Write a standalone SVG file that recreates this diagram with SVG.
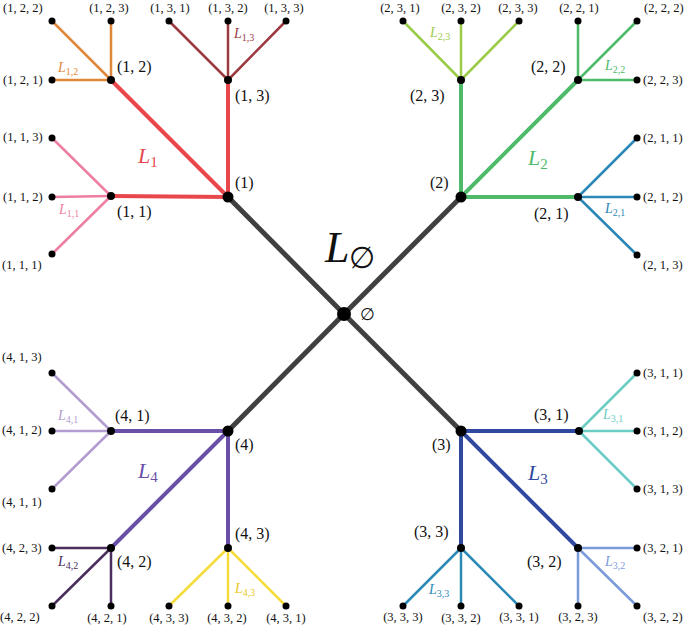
<svg xmlns="http://www.w3.org/2000/svg" width="685" height="628" viewBox="0 0 685 628" font-family="'Liberation Serif', 'DejaVu Serif', serif">
<style>
text{font-family:'Liberation Serif','DejaVu Serif',serif;fill:#111}
.lf{font-size:12.5px}
.n2{font-size:16px}
.L{font-style:italic}
.sub{font-style:normal}
.e0{stroke:#404040;stroke-width:5;fill:none}
.e1{stroke-width:4;fill:none}
.e2{stroke-width:2.5;fill:none}
.c1{stroke:#e8474c}.c11{stroke:#ee7fa0}.c12{stroke:#e0883a}.c13{stroke:#9b3a3f}
.c2{stroke:#4dbb6a}.c21{stroke:#2b87b5}.c22{stroke:#4dbb6a}.c23{stroke:#9acc4a}
.c3{stroke:#2f48a0}.c31{stroke:#6ccdc4}.c32{stroke:#7b9bd8}.c33{stroke:#2a8ab5}
.c4{stroke:#6a4fa8}.c41{stroke:#b39cd0}.c42{stroke:#4b2e5c}.c43{stroke:#f5dc3a}
</style>
<rect width="685" height="628" fill="#fff"/>
<g id="connectors" stroke-linecap="round">
<line class="e0" x1="344" y1="314" x2="228" y2="197"/>
<line class="e0" x1="344" y1="314" x2="461" y2="197"/>
<line class="e0" x1="344" y1="314" x2="461" y2="431"/>
<line class="e0" x1="344" y1="314" x2="228" y2="431"/>
<line class="e1 c1" x1="228" y1="197" x2="111" y2="196"/>
<line class="e1 c1" x1="228" y1="197" x2="111" y2="80"/>
<line class="e1 c1" x1="228" y1="197" x2="228" y2="80"/>
<line class="e2 c11" x1="111" y1="196" x2="52" y2="138"/>
<line class="e2 c11" x1="111" y1="196" x2="52" y2="197"/>
<line class="e2 c11" x1="111" y1="196" x2="52" y2="254"/>
<line class="e2 c12" x1="111" y1="80" x2="52" y2="21"/>
<line class="e2 c12" x1="111" y1="80" x2="111" y2="21"/>
<line class="e2 c12" x1="111" y1="80" x2="52" y2="80"/>
<line class="e2 c13" x1="228" y1="80" x2="169" y2="21"/>
<line class="e2 c13" x1="228" y1="80" x2="228" y2="21"/>
<line class="e2 c13" x1="228" y1="80" x2="286" y2="21"/>
<line class="e1 c2" x1="461" y1="197" x2="578" y2="197"/>
<line class="e1 c2" x1="461" y1="197" x2="578" y2="80"/>
<line class="e1 c2" x1="461" y1="197" x2="461" y2="80"/>
<line class="e2 c21" x1="578" y1="197" x2="637" y2="138"/>
<line class="e2 c21" x1="578" y1="197" x2="637" y2="197"/>
<line class="e2 c21" x1="578" y1="197" x2="637" y2="255"/>
<line class="e2 c22" x1="578" y1="80" x2="578" y2="21"/>
<line class="e2 c22" x1="578" y1="80" x2="637" y2="21"/>
<line class="e2 c22" x1="578" y1="80" x2="637" y2="80"/>
<line class="e2 c23" x1="461" y1="80" x2="403" y2="21"/>
<line class="e2 c23" x1="461" y1="80" x2="461" y2="21"/>
<line class="e2 c23" x1="461" y1="80" x2="519" y2="21"/>
<line class="e1 c3" x1="461" y1="431" x2="579" y2="431"/>
<line class="e1 c3" x1="461" y1="431" x2="578" y2="548"/>
<line class="e1 c3" x1="461" y1="431" x2="461" y2="548"/>
<line class="e2 c31" x1="579" y1="431" x2="637" y2="373"/>
<line class="e2 c31" x1="579" y1="431" x2="637" y2="431"/>
<line class="e2 c31" x1="579" y1="431" x2="637" y2="489"/>
<line class="e2 c32" x1="578" y1="548" x2="637" y2="548"/>
<line class="e2 c32" x1="578" y1="548" x2="637" y2="606"/>
<line class="e2 c32" x1="578" y1="548" x2="578" y2="606"/>
<line class="e2 c33" x1="461" y1="548" x2="403" y2="606"/>
<line class="e2 c33" x1="461" y1="548" x2="461" y2="606"/>
<line class="e2 c33" x1="461" y1="548" x2="519" y2="606"/>
<line class="e1 c4" x1="228" y1="431" x2="111" y2="431"/>
<line class="e1 c4" x1="228" y1="431" x2="111" y2="548"/>
<line class="e1 c4" x1="228" y1="431" x2="228" y2="548"/>
<line class="e2 c41" x1="111" y1="431" x2="52" y2="373"/>
<line class="e2 c41" x1="111" y1="431" x2="52" y2="431"/>
<line class="e2 c41" x1="111" y1="431" x2="52" y2="489"/>
<line class="e2 c42" x1="111" y1="548" x2="52" y2="548"/>
<line class="e2 c42" x1="111" y1="548" x2="52" y2="606"/>
<line class="e2 c42" x1="111" y1="548" x2="111" y2="606"/>
<line class="e2 c43" x1="228" y1="548" x2="169" y2="606"/>
<line class="e2 c43" x1="228" y1="548" x2="228" y2="606"/>
<line class="e2 c43" x1="228" y1="548" x2="286" y2="606"/>
</g>
<g id="edge-labels">
<text x="325" y="262" font-size="44" class="L">L<tspan class="sub" font-size="30" dy="6">∅</tspan></text>
<text x="138" y="163" font-size="22" class="L" style="fill:#e8474c">L<tspan class="sub" font-size="15" dy="4">1</tspan></text>
<text x="528" y="165" font-size="22" class="L" style="fill:#4dbb6a">L<tspan class="sub" font-size="15" dy="4">2</tspan></text>
<text x="528" y="480" font-size="22" class="L" style="fill:#2f48a0">L<tspan class="sub" font-size="15" dy="4">3</tspan></text>
<text x="138" y="478" font-size="22" class="L" style="fill:#6a4fa8">L<tspan class="sub" font-size="15" dy="4">4</tspan></text>
<text x="59" y="214" font-size="14" class="L" style="fill:#ee7fa0">L<tspan class="sub" font-size="10" dy="3">1,1</tspan></text>
<text x="58" y="72" font-size="14" class="L" style="fill:#e0883a">L<tspan class="sub" font-size="10" dy="3">1,2</tspan></text>
<text x="234" y="38" font-size="14" class="L" style="fill:#9b3a3f">L<tspan class="sub" font-size="10" dy="3">1,3</tspan></text>
<text x="605" y="213" font-size="14" class="L" style="fill:#2b87b5">L<tspan class="sub" font-size="10" dy="3">2,1</tspan></text>
<text x="605" y="70" font-size="14" class="L" style="fill:#4dbb6a">L<tspan class="sub" font-size="10" dy="3">2,2</tspan></text>
<text x="430" y="37" font-size="14" class="L" style="fill:#9acc4a">L<tspan class="sub" font-size="10" dy="3">2,3</tspan></text>
<text x="603" y="419" font-size="14" class="L" style="fill:#6ccdc4">L<tspan class="sub" font-size="10" dy="3">3,1</tspan></text>
<text x="605" y="566" font-size="14" class="L" style="fill:#7b9bd8">L<tspan class="sub" font-size="10" dy="3">3,2</tspan></text>
<text x="429" y="594" font-size="14" class="L" style="fill:#2a8ab5">L<tspan class="sub" font-size="10" dy="3">3,3</tspan></text>
<text x="58" y="420" font-size="14" class="L" style="fill:#b39cd0">L<tspan class="sub" font-size="10" dy="3">4,1</tspan></text>
<text x="58" y="566" font-size="14" class="L" style="fill:#4b2e5c">L<tspan class="sub" font-size="10" dy="3">4,2</tspan></text>
<text x="235" y="593" font-size="14" class="L" style="fill:#e8c820">L<tspan class="sub" font-size="10" dy="3">4,3</tspan></text>
</g>
<g id="root"><circle cx="344" cy="314" r="7"/><text x="360" y="320" font-size="17">∅</text></g>
<g id="n1"><circle cx="228" cy="197" r="5.5"/><text class="n2" x="235" y="188">(1)</text></g>
<g id="n2"><circle cx="461" cy="197" r="5.5"/><text class="n2" x="430" y="188">(2)</text></g>
<g id="n3"><circle cx="461" cy="431" r="5.5"/><text class="n2" x="432" y="450">(3)</text></g>
<g id="n4"><circle cx="228" cy="431" r="5.5"/><text class="n2" x="235" y="450">(4)</text></g>
<g id="n11"><circle cx="111" cy="196" r="4"/><text class="n2" x="117" y="217">(1, 1)</text></g>
<g id="n12"><circle cx="111" cy="80" r="4"/><text class="n2" x="117" y="72">(1, 2)</text></g>
<g id="n13"><circle cx="228" cy="80" r="4"/><text class="n2" x="235" y="101">(1, 3)</text></g>
<g id="n21"><circle cx="578" cy="197" r="4"/><text class="n2" x="534" y="219">(2, 1)</text></g>
<g id="n22"><circle cx="578" cy="80" r="4"/><text class="n2" x="531" y="72">(2, 2)</text></g>
<g id="n23"><circle cx="461" cy="80" r="4"/><text class="n2" x="410" y="101">(2, 3)</text></g>
<g id="n31"><circle cx="579" cy="431" r="4"/><text class="n2" x="534" y="420">(3, 1)</text></g>
<g id="n32"><circle cx="578" cy="548" r="4"/><text class="n2" x="527" y="567">(3, 2)</text></g>
<g id="n33"><circle cx="461" cy="548" r="4"/><text class="n2" x="414" y="537">(3, 3)</text></g>
<g id="n41"><circle cx="111" cy="431" r="4"/><text class="n2" x="115" y="421">(4, 1)</text></g>
<g id="n42"><circle cx="111" cy="548" r="4"/><text class="n2" x="117" y="567">(4, 2)</text></g>
<g id="n43"><circle cx="228" cy="548" r="4"/><text class="n2" x="235" y="539">(4, 3)</text></g>
<g id="n111"><circle cx="52" cy="254" r="3.5"/><text class="lf" x="2" y="269">(1, 1, 1)</text></g>
<g id="n112"><circle cx="52" cy="197" r="3.5"/><text class="lf" x="3" y="201">(1, 1, 2)</text></g>
<g id="n113"><circle cx="52" cy="138" r="3.5"/><text class="lf" x="3" y="141">(1, 1, 3)</text></g>
<g id="n121"><circle cx="52" cy="80" r="3.5"/><text class="lf" x="3" y="84">(1, 2, 1)</text></g>
<g id="n122"><circle cx="52" cy="21" r="3.5"/><text class="lf" x="3" y="12">(1, 2, 2)</text></g>
<g id="n123"><circle cx="111" cy="21" r="3.5"/><text class="lf" x="109" y="12" text-anchor="middle">(1, 2, 3)</text></g>
<g id="n131"><circle cx="169" cy="21" r="3.5"/><text class="lf" x="170" y="12" text-anchor="middle">(1, 3, 1)</text></g>
<g id="n132"><circle cx="228" cy="21" r="3.5"/><text class="lf" x="228" y="12" text-anchor="middle">(1, 3, 2)</text></g>
<g id="n133"><circle cx="286" cy="21" r="3.5"/><text class="lf" x="284" y="12" text-anchor="middle">(1, 3, 3)</text></g>
<g id="n211"><circle cx="637" cy="138" r="3.5"/><text class="lf" x="643" y="142">(2, 1, 1)</text></g>
<g id="n212"><circle cx="637" cy="197" r="3.5"/><text class="lf" x="643" y="201">(2, 1, 2)</text></g>
<g id="n213"><circle cx="637" cy="255" r="3.5"/><text class="lf" x="643" y="269">(2, 1, 3)</text></g>
<g id="n221"><circle cx="578" cy="21" r="3.5"/><text class="lf" x="579" y="12" text-anchor="middle">(2, 2, 1)</text></g>
<g id="n222"><circle cx="637" cy="21" r="3.5"/><text class="lf" x="644" y="12">(2, 2, 2)</text></g>
<g id="n223"><circle cx="637" cy="80" r="3.5"/><text class="lf" x="643" y="84">(2, 2, 3)</text></g>
<g id="n231"><circle cx="403" cy="21" r="3.5"/><text class="lf" x="400" y="12" text-anchor="middle">(2, 3, 1)</text></g>
<g id="n232"><circle cx="461" cy="21" r="3.5"/><text class="lf" x="461" y="12" text-anchor="middle">(2, 3, 2)</text></g>
<g id="n233"><circle cx="519" cy="21" r="3.5"/><text class="lf" x="518" y="12" text-anchor="middle">(2, 3, 3)</text></g>
<g id="n311"><circle cx="637" cy="373" r="3.5"/><text class="lf" x="643" y="377">(3, 1, 1)</text></g>
<g id="n312"><circle cx="637" cy="431" r="3.5"/><text class="lf" x="643" y="435">(3, 1, 2)</text></g>
<g id="n313"><circle cx="637" cy="489" r="3.5"/><text class="lf" x="643" y="493">(3, 1, 3)</text></g>
<g id="n321"><circle cx="637" cy="548" r="3.5"/><text class="lf" x="643" y="552">(3, 2, 1)</text></g>
<g id="n322"><circle cx="637" cy="606" r="3.5"/><text class="lf" x="643" y="621">(3, 2, 2)</text></g>
<g id="n323"><circle cx="578" cy="606" r="3.5"/><text class="lf" x="578" y="621" text-anchor="middle">(3, 2, 3)</text></g>
<g id="n331"><circle cx="519" cy="606" r="3.5"/><text class="lf" x="519" y="621" text-anchor="middle">(3, 3, 1)</text></g>
<g id="n332"><circle cx="461" cy="606" r="3.5"/><text class="lf" x="461" y="622" text-anchor="middle">(3, 3, 2)</text></g>
<g id="n333"><circle cx="403" cy="606" r="3.5"/><text class="lf" x="403" y="621" text-anchor="middle">(3, 3, 3)</text></g>
<g id="n411"><circle cx="52" cy="489" r="3.5"/><text class="lf" x="2" y="506">(4, 1, 1)</text></g>
<g id="n412"><circle cx="52" cy="431" r="3.5"/><text class="lf" x="2" y="434">(4, 1, 2)</text></g>
<g id="n413"><circle cx="52" cy="373" r="3.5"/><text class="lf" x="2" y="361">(4, 1, 3)</text></g>
<g id="n421"><circle cx="111" cy="606" r="3.5"/><text class="lf" x="107" y="622" text-anchor="middle">(4, 2, 1)</text></g>
<g id="n422"><circle cx="52" cy="606" r="3.5"/><text class="lf" x="0" y="621">(4, 2, 2)</text></g>
<g id="n423"><circle cx="52" cy="548" r="3.5"/><text class="lf" x="2" y="552">(4, 2, 3)</text></g>
<g id="n431"><circle cx="286" cy="606" r="3.5"/><text class="lf" x="286" y="622" text-anchor="middle">(4, 3, 1)</text></g>
<g id="n432"><circle cx="228" cy="606" r="3.5"/><text class="lf" x="227" y="622" text-anchor="middle">(4, 3, 2)</text></g>
<g id="n433"><circle cx="169" cy="606" r="3.5"/><text class="lf" x="169" y="622" text-anchor="middle">(4, 3, 3)</text></g>
</svg>
